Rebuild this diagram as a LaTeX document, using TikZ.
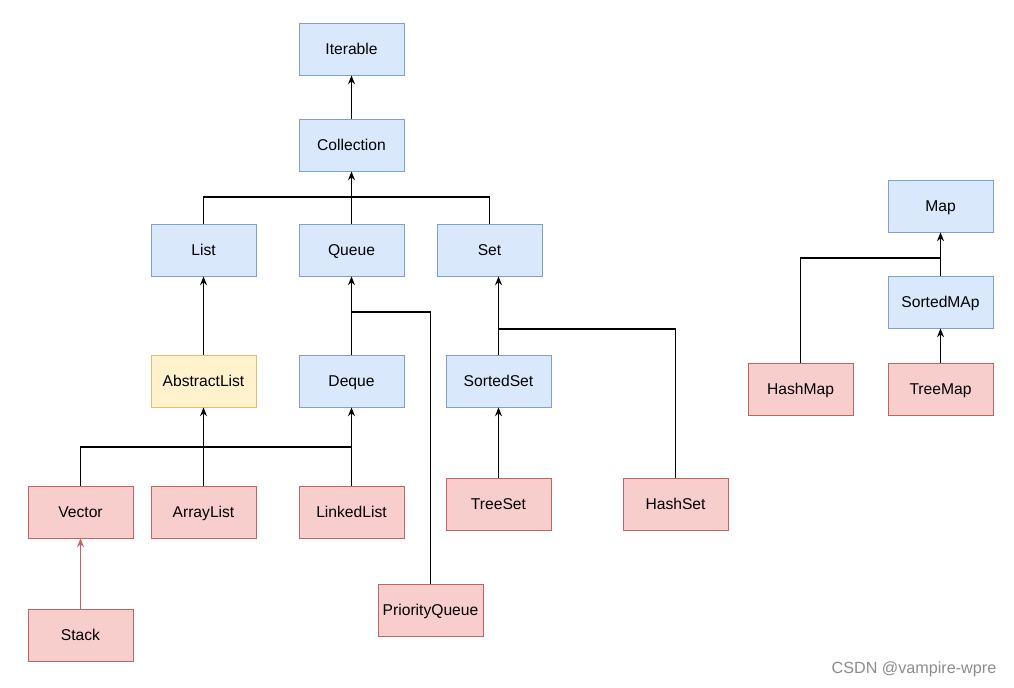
\documentclass[tikz,border=0pt]{standalone}
\usepackage{fontspec}
\setmainfont{Liberation Sans}
\usetikzlibrary{arrows.meta}
\definecolor{ifill}{HTML}{DAE8FC}
\definecolor{iline}{HTML}{7EA0CF}
\definecolor{afill}{HTML}{FFF2CC}
\definecolor{aline}{HTML}{DFC070}
\definecolor{cfill}{HTML}{F8CECC}
\definecolor{cline}{HTML}{C06560}
\begin{document}
\begin{tikzpicture}[x=0.02cm, y=-0.02cm,
  box/.style={draw, line width=0.5pt, minimum width=2.1cm, minimum height=1.04cm, inner sep=0pt, text height=8pt, text depth=1.2pt, font=\fontsize{8.9}{10}\selectfont},
  iface/.style={box, fill=ifill, draw=iline},
  abst/.style={box, fill=afill, draw=aline},
  impl/.style={box, fill=cfill, draw=cline},
  every path/.style={line width=0.6pt},
  >={Stealth[length=5pt,width=4pt]}]
\useasboundingbox (0,0) rectangle (1014,687);
\node[iface] (iterable) at (351.5,49) {Iterable};
\node[iface] (collection) at (351.5,145) {Collection};
\node[iface] (list) at (203.5,250) {List};
\node[iface] (queue) at (351.5,250) {Queue};
\node[iface] (set) at (489.5,250) {Set};
\node[abst] (abstractlist) at (203.5,381) {AbstractList};
\node[iface] (deque) at (351.5,381) {Deque};
\node[iface] (sortedset) at (498.5,381) {SortedSet};
\node[impl] (vector) at (80.5,512) {Vector};
\node[impl] (arraylist) at (203.5,512) {ArrayList};
\node[impl] (linkedlist) at (351.5,512) {LinkedList};
\node[impl] (treeset) at (498.5,504) {TreeSet};
\node[impl] (hashset) at (675.5,504) {HashSet};
\node[impl] (stack) at (80.5,635) {Stack};
\node[impl] (pqueue) at (430.5,610) {PriorityQueue};
\node[iface] (map) at (940.5,206) {Map};
\node[iface] (sortedmap) at (940.5,302) {SortedMAp};
\node[impl] (hashmap) at (800.5,389) {HashMap};
\node[impl] (treemap) at (940.5,389) {TreeMap};
%
\coordinate (cjoin) at (351.5,197);
\coordinate (qjoin) at (351.5,312);
\coordinate (djoin) at (351.5,447);
\coordinate (sjoin) at (498.5,329);
\coordinate (mjoin) at (940.5,258);
%
\draw[->] (collection) -- (iterable);
\draw[->] (queue) -- (collection);
\draw (list.north) |- (cjoin) -| (set.north);
\draw[->] (abstractlist) -- (list);
\draw[->] (arraylist) -- (abstractlist);
\draw[->] (deque) -- (queue);
\draw (pqueue.north) |- (qjoin);
\draw[->] (linkedlist) -- (deque);
\draw (vector.north) |- (djoin);
\draw[->] (sortedset.north) -- (sortedset.north |- set.south);
\draw (hashset.north) |- (sjoin);
\draw[->] (treeset) -- (sortedset);
\draw[->, cline] (stack) -- (vector);
\draw[->] (sortedmap) -- (map);
\draw (hashmap.north) |- (mjoin);
\draw[->] (treemap) -- (sortedmap);
%
\node[text=black!45, font=\fontsize{9.2}{11}\selectfont] (mark) at (914,669) {CSDN @vampire-wpre};
\end{tikzpicture}
\end{document}
